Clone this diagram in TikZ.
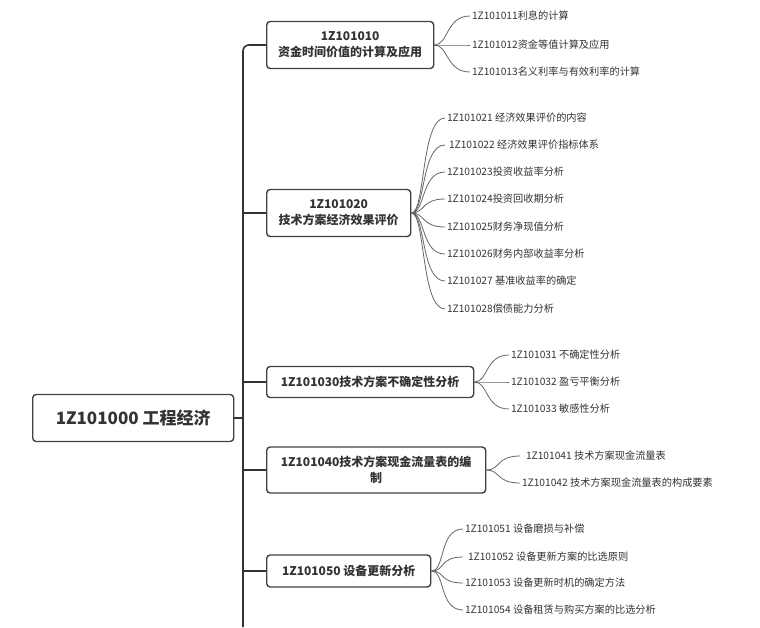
\documentclass[tikz,border=0pt]{standalone}
\usepackage{fontspec}
\setmainfont{Noto Sans CJK SC}
\usetikzlibrary{calc}

\begin{document}
\begin{tikzpicture}[x=1pt,y=-1pt,line width=1pt,
  caja/.style={draw=black!75,line width=1.4pt,rounded corners=3.5pt,inner sep=0pt,anchor=west,
    align=center,text=black!80,font=\bfseries\fontsize{12}{16}\selectfont},
  hoja/.style={anchor=west,inner sep=1.5pt,text=black!80,font=\fontsize{10.2}{12}\selectfont},
  rama/.style={draw=black!60,line width=0.8pt},
  tronco/.style={draw=black!80,line width=1.6pt}]
  \useasboundingbox (0,0) rectangle (760,627);
  % raiz y temas
  \node[caja,minimum width=201pt,minimum height=47pt,font=\bfseries\fontsize{17}{20}\selectfont] (raiz) at (32,418) {1Z101000 工程经济};
  \node[caja,minimum width=167pt,minimum height=47pt] (t1) at (266,45) {1Z101010\\资金时间价值的计算及应用};
  \node[caja,minimum width=144pt,minimum height=47pt] (t2) at (266,213) {1Z101020\\技术方案经济效果评价};
  \node[caja,minimum width=207pt,minimum height=31pt] (t3) at (266,382) {1Z101030技术方案不确定性分析};
  \node[caja,minimum width=219pt,minimum height=46pt] (t4) at (266,470) {1Z101040技术方案现金流量表的编\\制};
  \node[caja,minimum width=164pt,minimum height=32pt] (t5) at (266,571) {1Z101050 设备更新分析};
  \coordinate (fin) at (243,627);              % tronco sigue abajo
  \draw[tronco,rounded corners=6pt] (t1.west) -| (fin);
  \draw[tronco] (raiz.east) -- (raiz.east -| fin);
  \foreach \t in {t2,t3,t4,t5}
    \draw[tronco] (\t.west) -- (\t.west -| fin);
  % hojas
  \foreach \n/\y/\s in {1/16/{1Z101011利息的计算},2/45/{1Z101012资金等值计算及应用},3/72/{1Z101013名义利率与有效利率的计算}}
    \node[hoja] (h1\n) at (470,\y) {\s};
  \foreach \n/\y/\s in {1/118/{1Z101021 经济效果评价的内容},2/145/{\hspace*{2pt}1Z101022 经济效果评价指标体系},
      3/172/{1Z101023投资收益率分析},4/199/{1Z101024投资回收期分析},5/227/{1Z101025财务净现值分析},
      6/254/{1Z101026财务内部收益率分析},7/281/{1Z101027 基准收益率的确定},8/309/{1Z101028偿债能力分析}}
    \node[hoja] (h2\n) at (445,\y) {\s};
  \foreach \n/\y/\s in {1/355/{1Z101031 不确定性分析},2/382/{1Z101032 盈亏平衡分析},3/409/{1Z101033 敏感性分析}}
    \node[hoja] (h3\n) at (509,\y) {\s};
  \foreach \n/\y/\s in {1/456/{\hspace*{4pt}1Z101041 技术方案现金流量表},2/483/{1Z101042 技术方案现金流量表的构成要素}}
    \node[hoja] (h4\n) at (520,\y) {\s};
  \foreach \n/\y/\s in {1/529/{1Z101051 设备磨损与补偿},2/557/{\hspace*{3pt}1Z101052 设备更新方案的比选原则},
      3/583/{1Z101053 设备更新时机的确定方法},4/610/{1Z101054 设备租赁与购买方案的比选分析}}
    \node[hoja] (h5\n) at (463,\y) {\s};
  % ramas curvas
  \foreach \t/\m in {1/3,2/8,3/3,4/2,5/4}
    \foreach \n in {1,...,\m}
      \draw[rama] (t\t.east) .. controls +(14,0) and +(-24,0) .. (h\t\n.west);
\end{tikzpicture}
\end{document}
